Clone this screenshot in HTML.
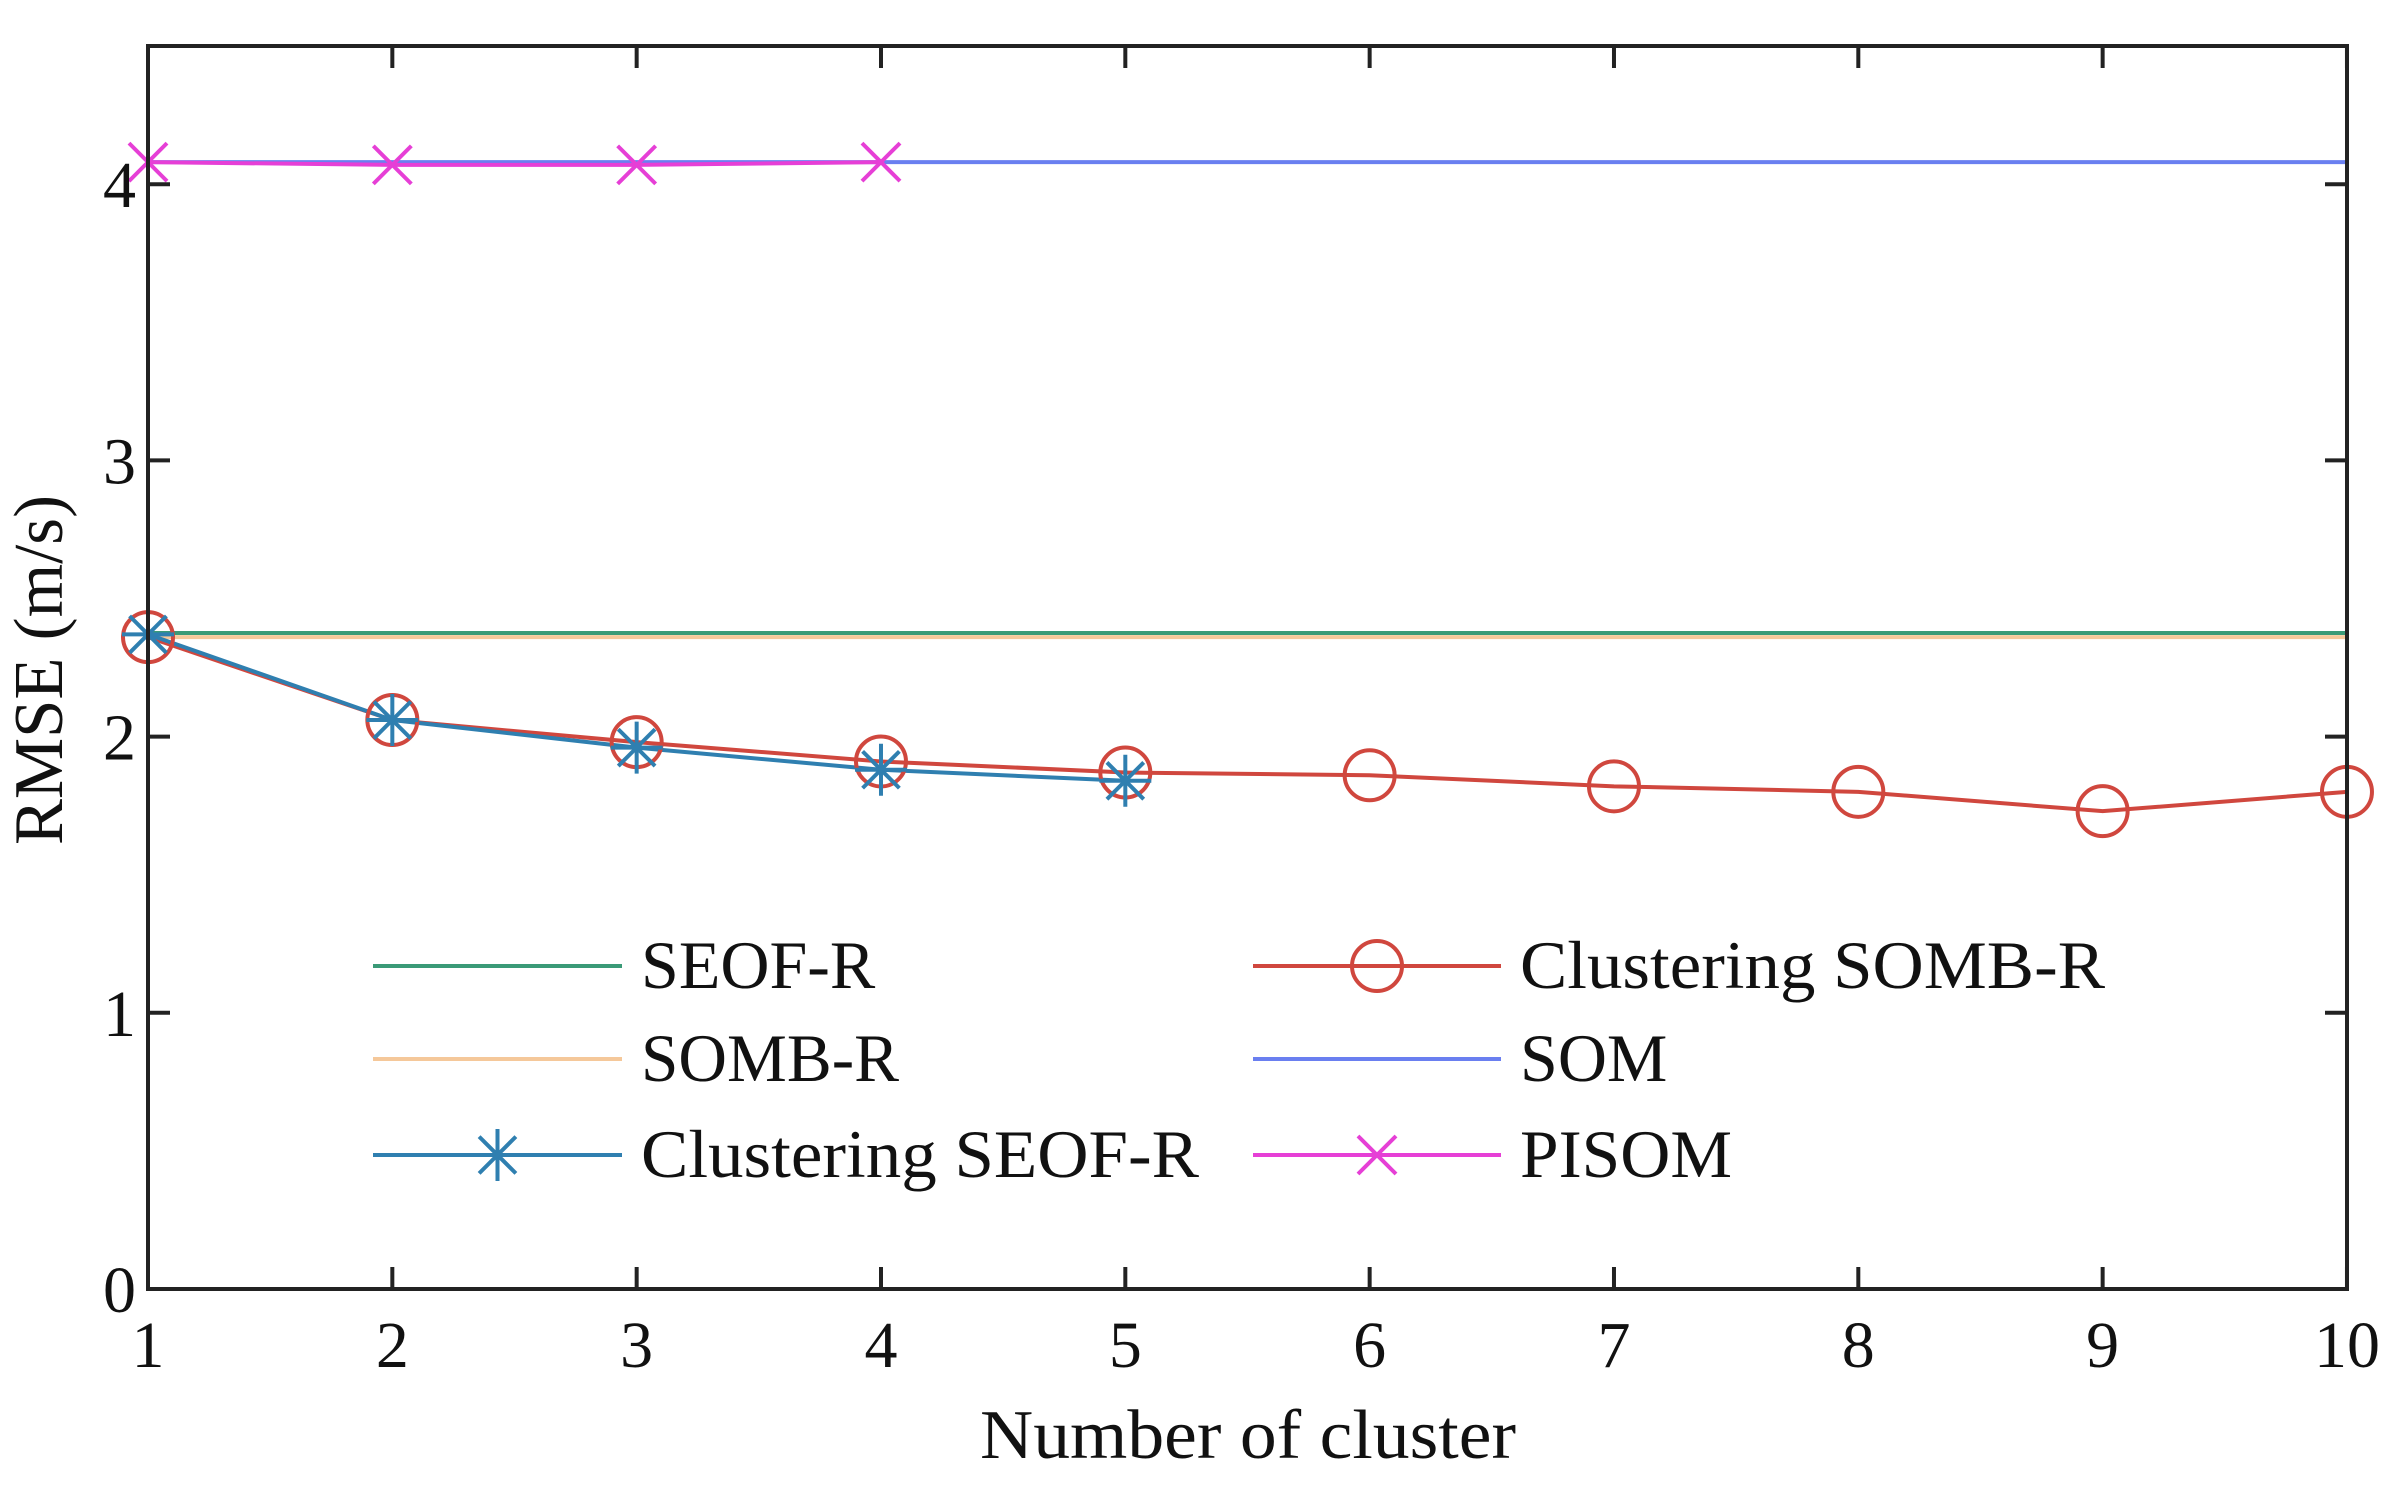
<!DOCTYPE html>
<html><head><meta charset="utf-8"><style>html,body{margin:0;padding:0;background:#fff}svg{display:block}</style></head>
<body>
<svg width="2390" height="1486" viewBox="0 0 2390 1486" xmlns="http://www.w3.org/2000/svg" font-family="'Liberation Serif', serif">
<rect width="2390" height="1486" fill="#fff"/>
<g id="ser" fill="none" stroke-width="4"></g>
<script>
const X=v=>148+(v-1)*244.33, Y=v=>1289-v*276.2;
const g=document.getElementById('ser');
const NS='http://www.w3.org/2000/svg';
function el(t,a){const e=document.createElementNS(NS,t);for(const k in a)e.setAttribute(k,a[k]);g.appendChild(e);return e;}
function line(pts,c,w){el('polyline',{points:pts.map(p=>X(p[0])+','+Y(p[1])).join(' '),stroke:c,'stroke-width':w||4,fill:'none'});}
line([[1,4.08],[10,4.08]],'#6a7ff0');
line([[1,2.36],[10,2.36]],'#f5c89a');
line([[1,2.375],[10,2.375]],'#3a9a77');
const sb=[2.36,2.06,1.98,1.91,1.87,1.86,1.82,1.80,1.73,1.80];
line(sb.map((v,i)=>[i+1,v]),'#d0473e');
const se=[2.37,2.06,1.96,1.88,1.84];
line(se.map((v,i)=>[i+1,v]),'#2f7fb0');
const pi=[4.08,4.07,4.07,4.08];
line(pi.map((v,i)=>[i+1,v]),'#e63fd6');
function star(cx,cy,c){const r=26;for(let a=0;a<180;a+=45){const t=a*Math.PI/180;el('line',{x1:cx-r*Math.sin(t),y1:cy-r*Math.cos(t),x2:cx+r*Math.sin(t),y2:cy+r*Math.cos(t),stroke:c,'stroke-width':4});}}
function cross(cx,cy,c){const r=19;el('line',{x1:cx-r,y1:cy-r,x2:cx+r,y2:cy+r,stroke:c,'stroke-width':4});el('line',{x1:cx-r,y1:cy+r,x2:cx+r,y2:cy-r,stroke:c,'stroke-width':4});}
function circ(cx,cy,c){el('ellipse',{cx:cx,cy:cy,rx:25,ry:25,stroke:c,'stroke-width':4,fill:'none'});}
sb.forEach((v,i)=>circ(X(i+1),Y(v),'#d0473e'));
se.forEach((v,i)=>star(X(i+1),Y(v),'#2f7fb0'));
pi.forEach((v,i)=>cross(X(i+1),Y(v),'#e63fd6'));
const L=[[373,622,966,'#3a9a77',null],[373,622,1059,'#f5c89a',null],[373,622,1155,'#2f7fb0',star],[1253,1501,966,'#d0473e',circ],[1253,1501,1059,'#6a7ff0',null],[1253,1501,1155,'#e63fd6',cross]];
L.forEach(l=>{el('line',{x1:l[0],y1:l[2],x2:l[1],y2:l[2],stroke:l[3],'stroke-width':4});if(l[4])l[4]((l[0]+l[1])/2,l[2],l[3]);});
el('rect',{x:148,y:46,width:2199,height:1243,stroke:'#222','stroke-width':4,fill:'none'});
for(let i=1;i<=10;i++){const x=X(i);el('line',{x1:x,y1:1289,x2:x,y2:1267,stroke:'#222','stroke-width':4});el('line',{x1:x,y1:46,x2:x,y2:68,stroke:'#222','stroke-width':4});
const t=el('text',{x:x,y:1367,'font-size':66,'text-anchor':'middle',fill:'#111',stroke:'none'});t.textContent=i;}
for(let v=0;v<=4;v++){const y=Y(v);el('line',{x1:148,y1:y,x2:170,y2:y,stroke:'#222','stroke-width':4});el('line',{x1:2347,y1:y,x2:2325,y2:y,stroke:'#222','stroke-width':4});
const t=el('text',{x:136,y:y+23,'font-size':66,'text-anchor':'end',fill:'#111',stroke:'none'});t.textContent=v;}
</script>
<g font-size="68" fill="#111">
<text x="641" y="988">SEOF-R</text>
<text x="641" y="1081" textLength="258" lengthAdjust="spacingAndGlyphs">SOMB-R</text>
<text x="641" y="1177" textLength="558" lengthAdjust="spacingAndGlyphs">Clustering SEOF-R</text>
<text x="1520" y="988" textLength="585" lengthAdjust="spacingAndGlyphs">Clustering SOMB-R</text>
<text x="1520" y="1081">SOM</text>
<text x="1520" y="1177" textLength="212" lengthAdjust="spacingAndGlyphs">PISOM</text>
</g>
<text x="1248" y="1458" font-size="70" text-anchor="middle" fill="#111" textLength="536" lengthAdjust="spacingAndGlyphs">Number of cluster</text>
<text transform="translate(62,670) rotate(-90)" font-size="70" text-anchor="middle" fill="#111" textLength="350" lengthAdjust="spacingAndGlyphs">RMSE (m/s)</text>
</svg>
</body></html>
